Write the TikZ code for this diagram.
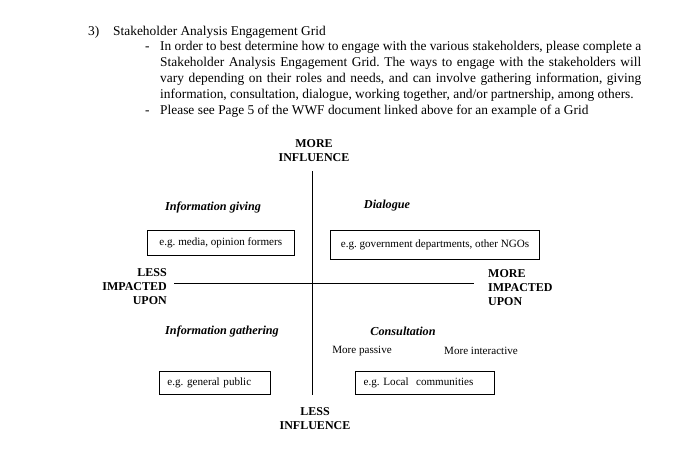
\documentclass[tikz,border=0pt]{standalone}
\usepackage{fontspec}
\setmainfont{Liberation Serif}
\begin{document}
\frenchspacing
\begin{tikzpicture}[x=1pt,y=-1pt,
  body/.style={inner sep=0pt,anchor=base west,font=\fontsize{13.4}{16}\selectfont},
  axislbl/.style={inner sep=0pt,font=\fontsize{12}{14}\selectfont\bfseries,align=center},
  quad/.style={inner sep=0pt,font=\fontsize{12.2}{14}\selectfont\bfseries\itshape},
  egbox/.style={draw,line width=0.8pt,inner sep=0pt,font=\fontsize{11.1}{12}\selectfont},
  note/.style={inner sep=0pt,font=\fontsize{11.1}{12}\selectfont},
  axis/.style={line width=1pt}]
\useasboundingbox (0,0) rectangle (699,450);
% header text
\node[body] (num) at (88,35) {3)};
\node[body] (title) at (113,35) {Stakeholder Analysis Engagement Grid};
\node[body] (d1) at (145,50) {-};
\node[body,anchor=north west,text width=481pt,align=justify] (p1) at (160,41)
 {In order to best determine how to engage with the various stakeholders, please complete a\linebreak
  Stakeholder Analysis Engagement Grid. The ways to engage with the stakeholders will\linebreak
  vary depending on their roles and needs, and can involve gathering information, giving\linebreak
  information, consultation, dialogue, working together, and/or partnership, among others.};
\node[body] (d2) at (145,114) {-};
\node[body] (p2) at (160,114) {Please see Page 5 of the WWF document linked above for an example of a Grid};
% axes
\coordinate (vt) at (312,171);
\coordinate (vb) at (312,395);
\coordinate (hl) at (174,283);
\coordinate (hr) at (474,283);
\draw[axis] (vt) -- (vb);
\draw[axis] (hl) -- (hr);
% axis labels
\node[axislbl] (mi) at (314,151) {MORE\\INFLUENCE};
\node[axislbl] (li) at (315,419) {LESS\\INFLUENCE};
\node[axislbl,anchor=east,align=right] (lip) at (167,287) {LESS\\IMPACTED\\UPON};
\node[axislbl,anchor=west,align=left] (mip) at (488,288) {MORE\\IMPACTED\\UPON};
% quadrant titles
\node[quad] (qg) at (213,208) {Information giving};
\node[quad] (qd) at (387,206) {Dialogue};
\node[quad] (qig) at (222,331) {Information gathering};
\node[quad] (qc) at (403,331) {Consultation};
\node[note] (mp) at (362,351) {More passive};
\node[note] (mint) at (481,351) {More interactive};
% boxes
\node[egbox,minimum width=147pt,minimum height=25pt] (b1) at (220.8,242.8) {e.g. media, opinion formers};
\node[egbox,minimum width=208.6pt,minimum height=29pt] (b2) at (435,244.8) {e.g. government departments, other NGOs};
\node[egbox,minimum width=111pt,minimum height=23.4pt,anchor=west,text width=111pt,align=left] (b3) at (159,383) {\hspace*{8pt}e.g. general public};
\node[egbox,minimum width=139pt,minimum height=23.4pt,anchor=west,text width=139pt,align=left] (b4) at (355.3,383) {\hspace*{8pt}e.g. Local\ \ communities};
\end{tikzpicture}
\end{document}
